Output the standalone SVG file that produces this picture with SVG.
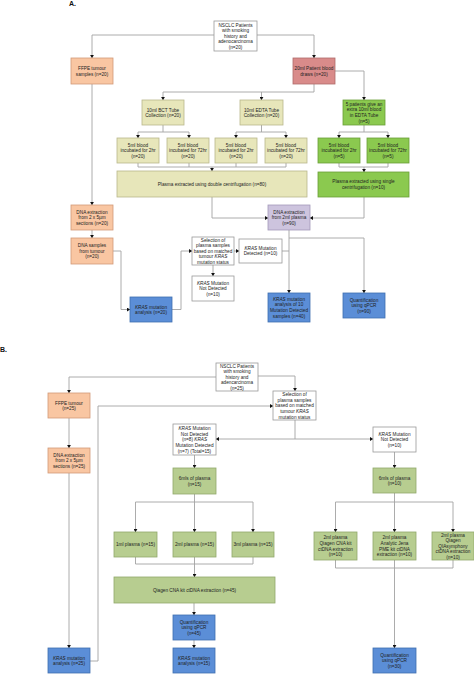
<svg xmlns="http://www.w3.org/2000/svg" width="474" height="674" viewBox="0 0 474 674">
<defs>
<marker id="ah" markerUnits="userSpaceOnUse" markerWidth="4" markerHeight="4" refX="3.2" refY="2" orient="auto">
<path d="M0,0 L3.4,2 L0,4 Z" fill="#111"/>
</marker>
<style>
rect{stroke-width:0.8}
.w{fill:#ffffff;stroke:#9a9a9a}
.pe{fill:#f9c6a2;stroke:#d29a78}
.sa{fill:#d98b8a;stroke:#b06b6a}
.be{fill:#e7e6ba;stroke:#b9b78c}
.gr{fill:#8bc94f;stroke:#6a9f38}
.pu{fill:#cdc4de;stroke:#a39ab9}
.bl{fill:#5b8ed7;stroke:#3f6fb0}
.ol{fill:#b7cd90;stroke:#91a96b}
text{font-family:"Liberation Sans",Arial,sans-serif;font-size:4.7px;fill:#222;text-anchor:middle}
.lab{font-size:7px;font-weight:bold;text-anchor:start;fill:#111}
.it{font-style:italic}
#connectors path{fill:none;stroke:#a3a3a3;stroke-width:0.9}
#connectors .a{marker-end:url(#ah)}
</style>
</defs>

<text class="lab" x="69" y="5.5">A.</text>
<text class="lab" x="0" y="352">B.</text>

<g id="connectors">
<!-- A -->
<path class="a" d="M214,35 H92 V58"/>
<path class="a" d="M257,35 H314 V58"/>
<path class="a" d="M314,84 V92 H163 V100"/>
<path class="a" d="M261.5,92 V100"/>
<path class="a" d="M335,71 H364 V100"/>
<path d="M163,125 V132 M138,132 H189"/>
<path class="a" d="M138,132 V138"/>
<path class="a" d="M189,132 V138"/>
<path d="M261.5,125 V132 M236,132 H286"/>
<path class="a" d="M236,132 V138"/>
<path class="a" d="M286,132 V138"/>
<path d="M364,125 V132 M339,132 H388"/>
<path class="a" d="M339,132 V138"/>
<path class="a" d="M388,132 V138"/>
<path d="M138,163 V167 H286 V163 M189,163 V167 M236,163 V167"/>
<path class="a" d="M212,167 V171"/>
<path d="M339,163 V167 H388 V163"/>
<path class="a" d="M364,167 V172"/>
<path class="a" d="M212,197 V218 H268"/>
<path class="a" d="M364,197 V218 H310"/>
<path class="a" d="M289,230 V293"/>
<path class="a" d="M289,238 H364 V293"/>
<path d="M282,251 H289"/>
<path class="a" d="M234,251 H239"/>
<path class="a" d="M213,265 V276"/>
<path class="a" d="M92,84 V205"/>
<path class="a" d="M92,230 V238"/>
<path class="a" d="M113,251 H121 V309.5 H130"/>
<path class="a" d="M172,309.5 H181 V251 H192"/>
<!-- B -->
<path class="a" d="M216,377 H69 V393"/>
<path class="a" d="M258,376 H295 V391"/>
<path class="a" d="M69,418 V448"/>
<path class="a" d="M69,473 V648"/>
<path class="a" d="M90,661 H98 V406 H273"/>
<path d="M295,420 V439"/>
<path class="a" d="M295,439 H216"/>
<path class="a" d="M295,439 H373"/>
<path class="a" d="M194.5,455 V468"/>
<path class="a" d="M394.5,452 V468"/>
<path d="M194.5,494 V502 M135.5,502 H253"/>
<path class="a" d="M135.5,502 V532"/>
<path class="a" d="M194.5,502 V532"/>
<path class="a" d="M253,502 V532"/>
<path d="M135.5,557 V564 H253 V557"/>
<path class="a" d="M194.5,557 V577"/>
<path class="a" d="M194,603 V615"/>
<path class="a" d="M194,640 V648"/>
<path d="M394.5,493 V502 M335.5,502 H453"/>
<path class="a" d="M335.5,502 V532"/>
<path class="a" d="M394.5,502 V532"/>
<path class="a" d="M453,502 V532"/>
<path d="M335.5,560 V568 H453 V560"/>
<path class="a" d="M394.5,560 V648"/>
</g>

<!-- Part A nodes -->
<g id="nsclcA"><rect class="w" x="214" y="21" width="43" height="30"/>
<text x="235.5"><tspan x="235.5" y="26.5">NSCLC Patients</tspan><tspan x="235.5" y="32.1">with smoking</tspan><tspan x="235.5" y="37.7">history and</tspan><tspan x="235.5" y="43.3">adenocarcinoma</tspan><tspan x="235.5" y="48.9">(n=20)</tspan></text></g>

<g id="ffpeA"><rect class="pe" x="71" y="58" width="42" height="26"/>
<text><tspan x="92" y="70">FFPE tumour</tspan><tspan x="92" y="75.6">samples (n=20)</tspan></text></g>

<g id="blood"><rect class="sa" x="293" y="58" width="42" height="26"/>
<text><tspan x="314" y="70">20ml Patient blood</tspan><tspan x="314" y="75.6">draws (n=20)</tspan></text></g>

<g id="bct"><rect class="be" x="142" y="100" width="42" height="25"/>
<text><tspan x="163" y="111.5">10ml BCT Tube</tspan><tspan x="163" y="117.1">Collection (n=20)</tspan></text></g>

<g id="edta"><rect class="be" x="240" y="100" width="43" height="25"/>
<text><tspan x="261.5" y="111.5">10ml EDTA Tube</tspan><tspan x="261.5" y="117.1">Collection (n=20)</tspan></text></g>

<g id="extra"><rect class="gr" x="343" y="100" width="42" height="25"/>
<text><tspan x="364" y="105.8">5 patients give an</tspan><tspan x="364" y="111.4">extra 10ml blood</tspan><tspan x="364" y="117">in EDTA Tube</tspan><tspan x="364" y="122.6">(n=5)</tspan></text></g>

<g id="bct2"><rect class="be" x="117" y="138" width="42" height="25"/>
<text><tspan x="138" y="146.8">5ml blood</tspan><tspan x="138" y="152.4">incubated for 2hr</tspan><tspan x="138" y="158">(n=20)</tspan></text></g>
<g id="bct72"><rect class="be" x="167" y="138" width="42" height="25"/>
<text><tspan x="188" y="146.8">5ml blood</tspan><tspan x="188" y="152.4">incubated for 72hr</tspan><tspan x="188" y="158">(n=20)</tspan></text></g>
<g id="edta2"><rect class="be" x="215" y="138" width="42" height="25"/>
<text><tspan x="236" y="146.8">5ml blood</tspan><tspan x="236" y="152.4">incubated for 2hr</tspan><tspan x="236" y="158">(n=20)</tspan></text></g>
<g id="edta72"><rect class="be" x="265" y="138" width="42" height="25"/>
<text><tspan x="286" y="146.8">5ml blood</tspan><tspan x="286" y="152.4">incubated for 72hr</tspan><tspan x="286" y="158">(n=20)</tspan></text></g>
<g id="gr2"><rect class="gr" x="318" y="138" width="42" height="25"/>
<text><tspan x="339" y="146.8">5ml blood</tspan><tspan x="339" y="152.4">incubated for 2hr</tspan><tspan x="339" y="158">(n=5)</tspan></text></g>
<g id="gr72"><rect class="gr" x="367" y="138" width="42" height="25"/>
<text><tspan x="388" y="146.8">5ml blood</tspan><tspan x="388" y="152.4">incubated for 72hr</tspan><tspan x="388" y="158">(n=5)</tspan></text></g>

<g id="plasmaDouble"><rect class="be" x="117" y="171" width="190" height="26"/>
<text x="212" y="185.7">Plasma extracted using double centrifugation (n=80)</text></g>

<g id="plasmaSingle"><rect class="gr" x="318" y="172" width="91" height="25"/>
<text><tspan x="363.5" y="183">Plasma extracted using single</tspan><tspan x="363.5" y="188.6">centrifugation (n=10)</tspan></text></g>

<g id="dna2ml"><rect class="pu" x="268" y="205" width="42" height="25"/>
<text><tspan x="289" y="213.5">DNA extraction</tspan><tspan x="289" y="219.1">from 2ml plasma</tspan><tspan x="289" y="224.7">(n=90)</tspan></text></g>

<g id="dnaExtA"><rect class="pe" x="71" y="205" width="42" height="25"/>
<text><tspan x="92" y="213.5">DNA extraction</tspan><tspan x="92" y="219.1">from 2 x 5µm</tspan><tspan x="92" y="224.7">sections (n=20)</tspan></text></g>

<g id="dnaSamples"><rect class="pe" x="71" y="238" width="42" height="26"/>
<text><tspan x="92" y="247">DNA samples</tspan><tspan x="92" y="252.6">from tumour</tspan><tspan x="92" y="258.2">(n=20)</tspan></text></g>

<g id="selA"><rect class="w" x="192" y="237" width="42" height="28"/>
<text><tspan x="213" y="241.6">Selection of</tspan><tspan x="213" y="247.2">plasma samples</tspan><tspan x="213" y="252.8">based on matched</tspan><tspan x="213" y="258.4">tumour <tspan class="it">KRAS</tspan></tspan><tspan x="213" y="264">mutation status</tspan></text></g>

<g id="krasDetA"><rect class="w" x="239" y="239" width="43" height="24"/>
<text><tspan x="260.5" y="249.5"><tspan class="it">KRAS</tspan> Mutation</tspan><tspan x="260.5" y="255.1">Detected (n=10)</tspan></text></g>

<g id="krasNotA"><rect class="w" x="192" y="276" width="42" height="25"/>
<text><tspan x="213" y="284.5"><tspan class="it">KRAS</tspan> Mutation</tspan><tspan x="213" y="290.1">Not Detected</tspan><tspan x="213" y="295.7">(n=10)</tspan></text></g>

<g id="krasAn20"><rect class="bl" x="130" y="297" width="42" height="25"/>
<text><tspan x="151" y="308.5"><tspan class="it">KRAS</tspan> mutation</tspan><tspan x="151" y="314.1">analysis (n=20)</tspan></text></g>

<g id="krasAn10"><rect class="bl" x="268" y="293" width="42" height="29"/>
<text><tspan x="289" y="300.8"><tspan class="it">KRAS</tspan> mutation</tspan><tspan x="289" y="306.4">analysis of 10</tspan><tspan x="289" y="312">Mutation Detected</tspan><tspan x="289" y="317.6">samples (n=40)</tspan></text></g>

<g id="quantA"><rect class="bl" x="343" y="293" width="42" height="25"/>
<text><tspan x="364" y="301.5">Quantification</tspan><tspan x="364" y="307.1">using qPCR</tspan><tspan x="364" y="312.7">(n=90)</tspan></text></g>

<!-- Part B nodes -->
<g id="nsclcB"><rect class="w" x="216" y="363" width="42" height="28"/>
<text><tspan x="237" y="367.5">NSCLC Patients</tspan><tspan x="237" y="373.1">with smoking</tspan><tspan x="237" y="378.7">history and</tspan><tspan x="237" y="384.3">adencarcinoma</tspan><tspan x="237" y="389.9">(n=25)</tspan></text></g>

<g id="ffpeB"><rect class="pe" x="48" y="393" width="42" height="25"/>
<text><tspan x="69" y="404.5">FFPE tumour</tspan><tspan x="69" y="410.1">(n=25)</tspan></text></g>

<g id="dnaExtB"><rect class="pe" x="48" y="448" width="42" height="25"/>
<text><tspan x="69" y="456.5">DNA extraction</tspan><tspan x="69" y="462.1">from 2 x 5µm</tspan><tspan x="69" y="467.7">sections (n=25)</tspan></text></g>

<g id="krasAn25"><rect class="bl" x="48" y="648" width="42" height="25"/>
<text><tspan x="69" y="659.5"><tspan class="it">KRAS</tspan> mutation</tspan><tspan x="69" y="665.1">analysis (n=25)</tspan></text></g>

<g id="selB"><rect class="w" x="273" y="391" width="43" height="29"/>
<text><tspan x="294.5" y="396.1">Selection of</tspan><tspan x="294.5" y="401.7">plasma samples</tspan><tspan x="294.5" y="407.3">based on matched</tspan><tspan x="294.5" y="412.9">tumour <tspan class="it">KRAS</tspan></tspan><tspan x="294.5" y="418.5">mutation status</tspan></text></g>

<g id="mixB"><rect class="w" x="173" y="424" width="43" height="31"/>
<text><tspan x="194.5" y="430.1"><tspan class="it">KRAS</tspan> Mutation</tspan><tspan x="194.5" y="435.7">Not Detected</tspan><tspan x="194.5" y="441.3">(n=8) <tspan class="it">KRAS</tspan></tspan><tspan x="194.5" y="446.9">Mutation Detected</tspan><tspan x="194.5" y="452.5">(n=7) (Total=15)</tspan></text></g>

<g id="notDetB"><rect class="w" x="373" y="427" width="43" height="25"/>
<text><tspan x="394.5" y="435.5"><tspan class="it">KRAS</tspan> Mutation</tspan><tspan x="394.5" y="441.1">Not Detected</tspan><tspan x="394.5" y="446.7">(n=10)</tspan></text></g>

<g id="sixL"><rect class="ol" x="173" y="468" width="43" height="26"/>
<text><tspan x="194.5" y="480">6mls of plasma</tspan><tspan x="194.5" y="485.6">(n=15)</tspan></text></g>

<g id="sixR"><rect class="ol" x="373" y="468" width="43" height="25"/>
<text><tspan x="394.5" y="479.5">6mls of plasma</tspan><tspan x="394.5" y="485.1">(n=10)</tspan></text></g>

<g id="p1ml"><rect class="ol" x="114" y="532" width="43" height="25"/>
<text x="135.5" y="546.2">1ml plasma (n=15)</text></g>
<g id="p2ml"><rect class="ol" x="173" y="532" width="43" height="25"/>
<text x="194.5" y="546.2">2ml plasma (n=15)</text></g>
<g id="p3ml"><rect class="ol" x="232" y="532" width="42" height="25"/>
<text x="253" y="546.2">3ml plasma (n=15)</text></g>

<g id="qiagen45"><rect class="ol" x="114" y="577" width="161" height="26"/>
<text x="194.5" y="591.7">Qiagen CNA kit ctDNA extraction (n=45)</text></g>

<g id="quant45"><rect class="bl" x="173" y="615" width="42" height="25"/>
<text><tspan x="194" y="623.5">Quantification</tspan><tspan x="194" y="629.1">using qPCR</tspan><tspan x="194" y="634.7">(n=45)</tspan></text></g>

<g id="krasAn15"><rect class="bl" x="173" y="648" width="42" height="25"/>
<text><tspan x="194" y="659.5"><tspan class="it">KRAS</tspan> mutation</tspan><tspan x="194" y="665.1">analysis (n=15)</tspan></text></g>

<g id="r1"><rect class="ol" x="314" y="532" width="43" height="28"/>
<text><tspan x="335.5" y="539.3">2ml plasma</tspan><tspan x="335.5" y="544.9">Qiagen CNA kit</tspan><tspan x="335.5" y="550.5">ctDNA extraction</tspan><tspan x="335.5" y="556.1">(n=10)</tspan></text></g>

<g id="r2"><rect class="ol" x="373" y="532" width="43" height="28"/>
<text><tspan x="394.5" y="539.3">2ml plasma</tspan><tspan x="394.5" y="544.9">Analytic Jena</tspan><tspan x="394.5" y="550.5">PME kit ctDNA</tspan><tspan x="394.5" y="556.1">extraction (n=10)</tspan></text></g>

<g id="r3"><rect class="ol" x="432" y="532" width="42" height="28"/>
<text><tspan x="453" y="536.5">2ml plasma</tspan><tspan x="453" y="542.1">Qiagen</tspan><tspan x="453" y="547.7">QIAsymphony</tspan><tspan x="453" y="553.3">ctDNA extraction</tspan><tspan x="453" y="558.9">(n=10)</tspan></text></g>

<g id="quant30"><rect class="bl" x="373" y="648" width="43" height="25"/>
<text><tspan x="394.5" y="656.5">Quantification</tspan><tspan x="394.5" y="662.1">using qPCR</tspan><tspan x="394.5" y="667.7">(n=30)</tspan></text></g>
</svg>
